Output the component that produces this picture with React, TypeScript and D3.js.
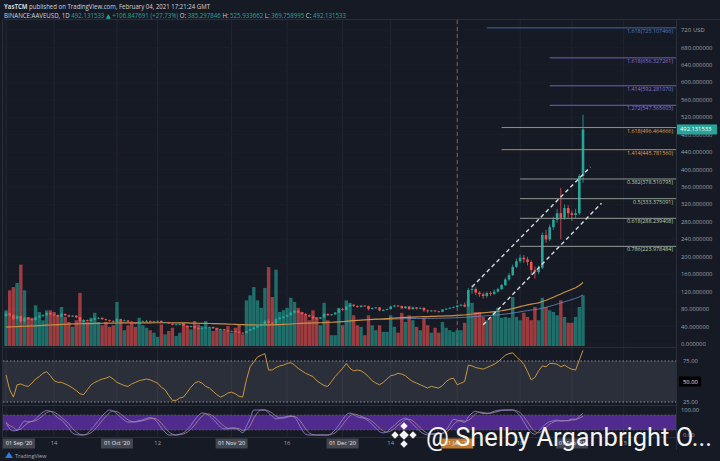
import React from 'react';
import * as d3 from 'd3';

// ---- data ----
const startDate = new Date(2020, 8, 1); // first candle: 01 Sep 2020, daily bars
const firstOpen = 64;

const closes = [
  70, 66, 58, 64, 52, 60, 57, 55, 61, 64,
  66, 71, 68, 66, 63, 69, 66, 63, 65, 61,
  52, 55, 53, 56, 59, 60, 57, 55, 53, 51,
  57, 53, 54, 51, 49, 47, 51, 52, 53, 51,
  52, 53, 49, 50, 47, 44, 45, 46, 42, 39,
  41, 37, 34, 36, 38, 39, 36, 33, 34, 31,
  29, 30, 28, 26, 25, 30, 34, 38, 42, 45,
  53, 49, 47, 57, 60, 63, 66, 72, 76, 72,
  69, 66, 63, 59, 58, 61, 69, 66, 68, 72,
  80, 78, 86, 90, 87, 85, 88, 87, 80, 82,
  84, 77, 78, 80, 86, 88, 87, 82, 86, 80,
  84, 81, 83, 77, 75, 77, 75, 74, 79, 81,
  83, 85, 88, 90, 86, 124, 126, 118, 114, 110,
  117, 115, 120, 126, 135, 148, 158, 177, 190, 198,
  194, 188, 170, 165, 175, 250, 240, 268, 285, 300,
  290, 312, 300, 296, 300, 385.297846, 492.131533
];

const highs = [
  74, 72, 68, 67, 66, 62, 62, 59, 63, 66,
  68, 73, 73, 70, 68, 71, 70, 67, 66, 66,
  62, 57, 56, 58, 61, 62, 61, 58, 56, 54,
  59, 58, 56, 55, 52, 50, 52, 54, 55, 54,
  53, 54, 54, 51, 51, 48, 46, 47, 47, 43,
  42, 42, 38, 37, 39, 40, 40, 37, 35, 35,
  32, 31, 31, 29, 27, 31, 35, 40, 43, 47,
  55, 57, 51, 59, 62, 64, 68, 74, 78, 78,
  74, 71, 68, 65, 61, 62, 71, 70, 69, 73,
  82, 83, 88, 93, 92, 89, 89, 89, 88, 84,
  85, 85, 80, 81, 88, 90, 89, 88, 87, 87,
  86, 85, 84, 84, 79, 78, 78, 76, 80, 82,
  84, 86, 90, 92, 95, 128, 135, 130, 121, 118,
  120, 121, 125, 129, 138, 152, 163, 182, 196, 205,
  204, 200, 192, 178, 180, 256, 262, 274, 292, 310,
  358, 320, 318, 306, 310, 390, 525.933662
];

const lows = [
  62, 63, 55, 54, 48, 49, 55, 53, 54, 59,
  62, 64, 66, 64, 61, 62, 64, 61, 62, 59,
  48, 50, 51, 52, 55, 57, 55, 53, 51, 49,
  50, 51, 52, 50, 47, 45, 46, 50, 51, 50,
  50, 51, 48, 48, 46, 43, 43, 44, 41, 38,
  38, 35, 33, 33, 35, 37, 35, 32, 32, 30,
  28, 28, 27, 25, 24, 24, 29, 33, 37, 41,
  44, 46, 44, 46, 56, 58, 62, 65, 70, 70,
  67, 64, 61, 56, 55, 57, 60, 64, 65, 67,
  71, 75, 77, 85, 85, 83, 84, 85, 77, 79,
  81, 75, 76, 77, 79, 85, 85, 80, 81, 78,
  79, 79, 80, 74, 72, 74, 73, 72, 73, 78,
  80, 82, 84, 86, 84, 85, 115, 112, 108, 104,
  106, 110, 113, 118, 124, 133, 145, 156, 174, 186,
  186, 180, 158, 150, 160, 172, 232, 236, 262, 278,
  240, 285, 290, 282, 288, 296, 369.758995
];

const volumes = [
  43, 67, 71, 76, 98, 67, 35, 34, 49, 41,
  31, 43, 43, 41, 37, 47, 35, 29, 23, 31,
  64, 31, 29, 34, 40, 29, 25, 29, 23, 25,
  53, 31, 19, 25, 29, 23, 34, 25, 22, 19,
  16, 11, 26, 14, 18, 22, 12, 16, 28, 24,
  20, 30, 26, 24, 30, 22, 18, 22, 20, 18,
  24, 16, 22, 26, 14, 55, 61, 71, 55, 46,
  70, 95, 59, 92, 41, 43, 46, 58, 53, 46,
  41, 37, 31, 43, 35, 25, 52, 31, 13, 13,
  46, 25, 55, 52, 37, 25, 23, 13, 37, 25,
  19, 25, 17, 17, 37, 23, 16, 40, 29, 37,
  31, 23, 19, 34, 25, 16, 22, 16, 29, 22,
  19, 17, 19, 19, 28, 55, 52, 41, 41, 35,
  31, 35, 41, 46, 34, 35, 34, 59, 35, 31,
  40, 35, 31, 47, 31, 58, 47, 43, 41, 37,
  55, 35, 28, 28, 35, 47, 61
];

// RSI(14) as plotted in the lower pane
const rsiValues = [
  58, 40, 31, 46, 47, 45, 44, 48, 53, 56,
  60, 62, 57, 51, 49, 49, 47, 45, 42, 39,
  35, 34, 40, 46, 49, 51, 53, 54, 56, 53,
  49, 47, 45, 44, 47, 49, 51, 52, 53, 52,
  50, 48, 43, 40, 33, 27, 27, 30, 31, 37,
  43, 48, 50, 48, 44, 42, 38, 34, 31, 33,
  36, 37, 35, 32, 31, 52, 68, 74, 80, 82,
  84, 64, 64, 67, 69, 70, 72, 73, 70, 66,
  63, 60, 58, 56, 51, 48, 45, 44, 50, 56,
  61, 66, 72, 66, 63, 64, 63, 60, 56, 51,
  48, 46, 49, 53, 57, 58, 60, 59, 57, 53,
  50, 48, 46, 44, 42, 44, 43, 42, 45, 50,
  53, 54, 46, 48, 50, 70, 69, 67, 66, 65,
  67, 69, 71, 74, 78, 82, 84, 85, 80, 76,
  71, 62, 52, 55, 63, 69, 68, 72, 72, 71,
  68, 70, 67, 65, 64, 76, 88
];

const priceTicks = d3.range(0, 721, 40);
const maSeed = 38; // EMA value carried in from before the first bar

// fibonacci drawings
const fibRatios = ['1.618', '1.618', '1.414', '1.272', '1.618', '1.414', '0.382', '0.5', '0.618', '0.786'];
const fibPrices = [725.107466, 656.327261, 592.281070, 547.565603, 496.464666, 445.781560, 378.510795, 333.375091, 288.239408, 223.978484];
const fibGroups = ['blue', 'purple', 'purple', 'purple', 'orange', 'orange', 'green', 'green', 'green', 'green'];
const fibStarts = [new Date(2021, 0, 9), new Date(2021, 0, 26), new Date(2021, 0, 26), new Date(2021, 0, 26),
  new Date(2021, 0, 13), new Date(2021, 0, 13), new Date(2021, 0, 18), new Date(2021, 0, 18), new Date(2021, 0, 18), new Date(2021, 0, 18)];

// parallel channel (day offset, price)
const channelUpper = [[126, 131], [158, 406]];
const channelLower = [[129, 44], [161, 323]];
const markerDate = new Date(2021, 0, 1);

const timeLabelDates = [
  new Date(2020, 8, 1), new Date(2020, 8, 14), new Date(2020, 9, 1), new Date(2020, 9, 12),
  new Date(2020, 10, 1), new Date(2020, 10, 16), new Date(2020, 11, 1), new Date(2020, 11, 14),
  new Date(2021, 0, 1), new Date(2021, 0, 18), new Date(2021, 1, 1), new Date(2021, 1, 15)
];
const timeLabelTexts = ["01 Sep '20", '14', "01 Oct '20", '12', "01 Nov '20", '16', "01 Dec '20", '14',
  "01 Jan '21", '18', "01 Feb '21", '15'];
const timeLabelKinds = ['box', '', 'box', '', 'box', '', 'box', '', 'marker', '', 'box', ''];

// ---- styles ----
const BG = '#161a25';
const UP = '#26a69a';
const DOWN = '#ef5350';
const GRID = '#222633';
const BORDER = '#2a2e39';
const AXIS_TEXT = '#9ea1aa';
const FONT = '"Open Sans", "DejaVu Sans", sans-serif';
const fibColors: Record<string, { line: string; text: string }> = {
  blue: { line: '#3b69b0', text: '#4f7fd0' },
  purple: { line: '#6f5fbf', text: '#8a78d8' },
  orange: { line: '#b98a3e', text: '#e0a24a' },
  green: { line: '#8f9a94', text: '#b6d5a8' }
};

const plotLeft = 3;
const plotRight = 676;
const mainTop = 20;
const mainBottom = 347;
const rsiTop = 348;
const rsiBottom = 405;
const stBottom = 437;

function sma(vals: number[], n: number) {
  return vals.map((_, i) => d3.mean(vals.slice(Math.max(0, i - n + 1), i + 1)) as number);
}

const App: React.FC = () => {
  const n = closes.length;
  const opens = closes.map((_, i) => (i === 0 ? firstOpen : closes[i - 1]));
  const dayIndex = (d: Date) => d3.timeDay.count(startDate, d);

  const x = d3.scaleLinear().domain([0, 156]).range([6, 583]);
  const y = d3.scaleLinear().domain([0, 720]).range([344, 30.1]);
  const yVol = d3.scaleLinear().domain([0, 100]).range([346, 263]);
  const yRsi = d3.scaleLinear().domain([25, 75]).range([402, 361]);
  const ySt = d3.scaleLinear().domain([0, 100]).range([435, 410]);

  // indicators
  let e = maSeed;
  const ema = closes.map(c => (e = e + (c - e) * 2 / 101));
  const sma100 = closes.map((_, i) => (i >= 99 ? (d3.mean(closes.slice(i - 99, i + 1)) as number) : NaN));

  // Stoch RSI (14, 14, 3, 3)
  const stochRaw = rsiValues.map((v, i) => {
    const w = rsiValues.slice(Math.max(0, i - 13), i + 1);
    const lo = d3.min(w) as number, hi = d3.max(w) as number;
    return hi === lo ? 50 : ((v - lo) / (hi - lo)) * 100;
  });
  const kLine = sma(stochRaw, 3);
  const dLine = sma(kLine, 3);

  const idx = d3.range(n);
  const maPath = d3.line<number>().x(i => x(i)).y(i => y(ema[i]))(idx) || '';
  const sma100Path = d3.line<number>().defined(i => !isNaN(sma100[i])).x(i => x(i)).y(i => y(sma100[i]))(idx) || '';
  const rsiPath = d3.line<number>().x(i => x(i)).y(i => Math.max(rsiTop + 2, yRsi(rsiValues[i])))(idx) || '';
  const kPath = d3.line<number>().curve(d3.curveMonotoneX).x(i => x(i)).y(i => ySt(kLine[i]))(idx) || '';
  const dPath = d3.line<number>().curve(d3.curveMonotoneX).x(i => x(i)).y(i => ySt(dLine[i]))(idx) || '';

  const bodyW = 2.6;
  const last = n - 1;

  return (
    <div style={{ position: 'absolute', left: 0, top: 0 }}>
      <svg width={720} height={461} style={{ display: 'block', fontFamily: FONT }}>
        <defs>
          <clipPath id="mainClip"><rect x={plotLeft} y={mainTop} width={plotRight - plotLeft} height={mainBottom - mainTop} /></clipPath>
          <clipPath id="rsiClip"><rect x={plotLeft} y={rsiTop} width={plotRight - plotLeft} height={rsiBottom - rsiTop} /></clipPath>
        </defs>
        <rect width={720} height={461} fill={BG} />

        {/* grid */}
        {timeLabelDates.map((d, i) => (
          <line key={'vg' + i} x1={x(dayIndex(d))} x2={x(dayIndex(d))} y1={mainTop} y2={stBottom} stroke={GRID} strokeWidth={1} />
        ))}
        {priceTicks.map(p => (
          <line key={'hg' + p} x1={plotLeft} x2={plotRight} y1={y(p)} y2={y(p)} stroke="#1b1f2a" strokeWidth={1} />
        ))}

        {/* header */}
        <text x={4} y={9} fontSize={6.4} fill="#d1d4dc" textLength={206} lengthAdjust="spacingAndGlyphs">
          <tspan fontWeight="bold">YasTCM</tspan> published on TradingView.com, February 04, 2021 17:21:24 GMT
        </text>
        <text x={4} y={18} fontSize={6.4} fill="#d1d4dc" textLength={342} lengthAdjust="spacingAndGlyphs">
          <tspan>BINANCE:AAVEUSD, 1D </tspan>
          <tspan fill={UP}>{closes[last].toFixed(6)} ▲ +106.847691 (+27.73%)</tspan>
          <tspan> O: </tspan><tspan fill={UP}>{opens[last].toFixed(6)}</tspan>
          <tspan> H: </tspan><tspan fill={UP}>{highs[last].toFixed(6)}</tspan>
          <tspan> L: </tspan><tspan fill={UP}>{lows[last].toFixed(6)}</tspan>
          <tspan> C: </tspan><tspan fill={UP}>{closes[last].toFixed(6)}</tspan>
        </text>

        <g clipPath="url(#mainClip)">
          {/* volume */}
          {volumes.map((v, i) => (
            <rect key={'v' + i} x={x(i) - 1.7} width={3.4} y={yVol(v)} height={yVol(0) - yVol(v)}
              fill={closes[i] >= opens[i] ? 'rgba(38,166,154,0.6)' : 'rgba(239,83,80,0.62)'} />
          ))}

          {/* moving averages */}
          <path d={sma100Path} fill="none" stroke="#6f86b8" strokeWidth={1} opacity={0.8} />
          <path d={maPath} fill="none" stroke="#c98f45" strokeWidth={1.2} />

          {/* candles */}
          {idx.map(i => {
            const c = closes[i] >= opens[i] ? UP : DOWN;
            const top = y(Math.max(opens[i], closes[i]));
            const h = Math.max(0.8, Math.abs(y(opens[i]) - y(closes[i])));
            return (
              <g key={'c' + i}>
                <line x1={x(i)} x2={x(i)} y1={y(highs[i])} y2={y(lows[i])} stroke={c} strokeWidth={0.8} />
                <rect x={x(i) - bodyW / 2} width={bodyW} y={top} height={h} fill={c} />
              </g>
            );
          })}

          {/* vertical marker */}
          <line x1={x(dayIndex(markerDate))} x2={x(dayIndex(markerDate))} y1={mainTop} y2={mainBottom}
            stroke="#a5503e" strokeWidth={1} strokeDasharray="4,3" />

          {/* fib levels */}
          {fibPrices.map((p, i) => {
            const st = fibColors[fibGroups[i]];
            return (
              <g key={'f' + i}>
                <line x1={x(dayIndex(fibStarts[i]))} x2={plotRight} y1={y(p)} y2={y(p)} stroke={st.line} strokeWidth={1} />
                <text x={673} y={y(p) + 5} fontSize={5.4} fill={st.text} textAnchor="end">{`${fibRatios[i]}(${p.toFixed(6)})`}</text>
              </g>
            );
          })}

          {/* channel */}
          {[channelUpper, channelLower].map((seg, i) => (
            <line key={'ch' + i} x1={x(seg[0][0])} y1={y(seg[0][1])} x2={x(seg[1][0])} y2={y(seg[1][1])}
              stroke="#d8dae0" strokeWidth={1.4} strokeDasharray="4,3" />
          ))}
        </g>

        {/* RSI pane */}
        <rect x={plotLeft} y={yRsi(75)} width={plotRight - plotLeft} height={yRsi(25) - yRsi(75)} fill="rgba(120,124,138,0.22)" />
        {[75, 25].map(v => (
          <line key={'rl' + v} x1={plotLeft} x2={plotRight} y1={yRsi(v)} y2={yRsi(v)} stroke="#8c8f98" strokeWidth={1} strokeDasharray="1.5,2" />
        ))}
        <g clipPath="url(#rsiClip)">
          <path d={rsiPath} fill="none" stroke="#c8963f" strokeWidth={1} />
        </g>

        {/* Stoch RSI pane */}
        <rect x={plotLeft} y={ySt(80)} width={plotRight - plotLeft} height={ySt(20) - ySt(80)} fill="rgba(96,46,168,0.8)" />
        {[80, 20].map(v => (
          <line key={'sl' + v} x1={plotLeft} x2={plotRight} y1={ySt(v)} y2={ySt(v)} stroke="#5f5a78" strokeWidth={0.8} strokeDasharray="1.5,2" />
        ))}
        <path d={dPath} fill="none" stroke="#b8908a" strokeWidth={1} opacity={0.75} />
        <path d={kPath} fill="none" stroke="#8f86e0" strokeWidth={1} opacity={0.85} />

        {/* pane borders */}
        <line x1={plotLeft} x2={plotRight} y1={mainBottom + 0.5} y2={mainBottom + 0.5} stroke={BORDER} />
        <line x1={plotLeft} x2={plotRight} y1={rsiBottom + 0.5} y2={rsiBottom + 0.5} stroke={BORDER} />
        <line x1={plotLeft} x2={plotRight} y1={stBottom + 0.5} y2={stBottom + 0.5} stroke={BORDER} />
        <line x1={plotRight + 0.5} x2={plotRight + 0.5} y1={mainTop} y2={450} stroke={BORDER} />
        <line x1={plotLeft - 0.5} x2={plotLeft - 0.5} y1={mainTop} y2={450} stroke={BORDER} />
        <line x1={plotLeft} x2={720} y1={mainTop - 0.5} y2={mainTop - 0.5} stroke={BORDER} />

        {/* price axis */}
        {priceTicks.map(p => (
          <text key={'pt' + p} x={681} y={y(p) + 2} fontSize={5.8} fill={AXIS_TEXT}>
            {p === 720 ? '720' : p.toFixed(6)}
          </text>
        ))}
        <text x={693} y={y(720) + 2} fontSize={5.8} fill={AXIS_TEXT}>USD</text>
        <rect x={677} y={y(closes[last]) - 5} width={40} height={10} fill={UP} />
        <text x={680} y={y(closes[last]) + 2} fontSize={5.8} fill="#ffffff">{closes[last].toFixed(6)}</text>

        {/* indicator axes */}
        {[75, 25].map(v => (
          <text key={'ra' + v} x={683} y={yRsi(v) + 2} fontSize={5.8} fill={AXIS_TEXT}>{v.toFixed(2)}</text>
        ))}
        <rect x={679} y={yRsi(50) - 5} width={22} height={10} fill="#000000" />
        <text x={683} y={yRsi(50) + 2} fontSize={5.8} fill="#e0e3eb">50.00</text>
        <text x={681} y={ySt(100) + 2} fontSize={5.8} fill={AXIS_TEXT}>100.00</text>
        <text x={683} y={ySt(0) + 2} fontSize={5.8} fill={AXIS_TEXT}>0.00</text>

        {/* time axis */}
        {timeLabelDates.map((d, i) => {
          const cx = x(dayIndex(d));
          const kind = timeLabelKinds[i];
          if (!kind) {
            return <text key={'tl' + i} x={cx} y={445} fontSize={5.8} fill={AXIS_TEXT} textAnchor="middle">{timeLabelTexts[i]}</text>;
          }
          const bw = 32;
          const bx = Math.max(plotLeft, cx - bw / 2);
          return (
            <g key={'tl' + i}>
              <rect x={bx} y={438.5} width={bw} height={10} fill={kind === 'marker' ? '#c07a2c' : '#434651'} />
              <text x={bx + bw / 2} y={445.3} fontSize={5.6} fill="#e6e8ee" textAnchor="middle">{timeLabelTexts[i]}</text>
            </g>
          );
        })}

        {/* TradingView footer */}
        <path d="M5 458 L9 452 L13 458 Z" fill="#2d7ddb" />
        <text x={15} y={458} fontSize={5.5} fill="#a7aab3">TradingView</text>

        {/* watermark */}
        <g fill="#ffffff" opacity={0.95}>
          {[[0, -9], [-9, 0], [9, 0], [0, 9]].map(([dx, dy], i) => (
            <rect key={'bn' + i} x={404 + dx - 2.6} y={435 + dy - 2.6} width={5.2} height={5.2}
              transform={`rotate(45 ${404 + dx} ${435 + dy})`} />
          ))}
          <rect x={404 - 3.4} y={435 - 3.4} width={6.8} height={6.8} transform="rotate(45 404 435)" />
          <text x={426} y={446} fontSize={25} fontFamily="Roboto, sans-serif" textLength={286} lengthAdjust="spacingAndGlyphs">
            @ Shelby Arganbright O...
          </text>
        </g>
      </svg>
    </div>
  );
};

export default App;
